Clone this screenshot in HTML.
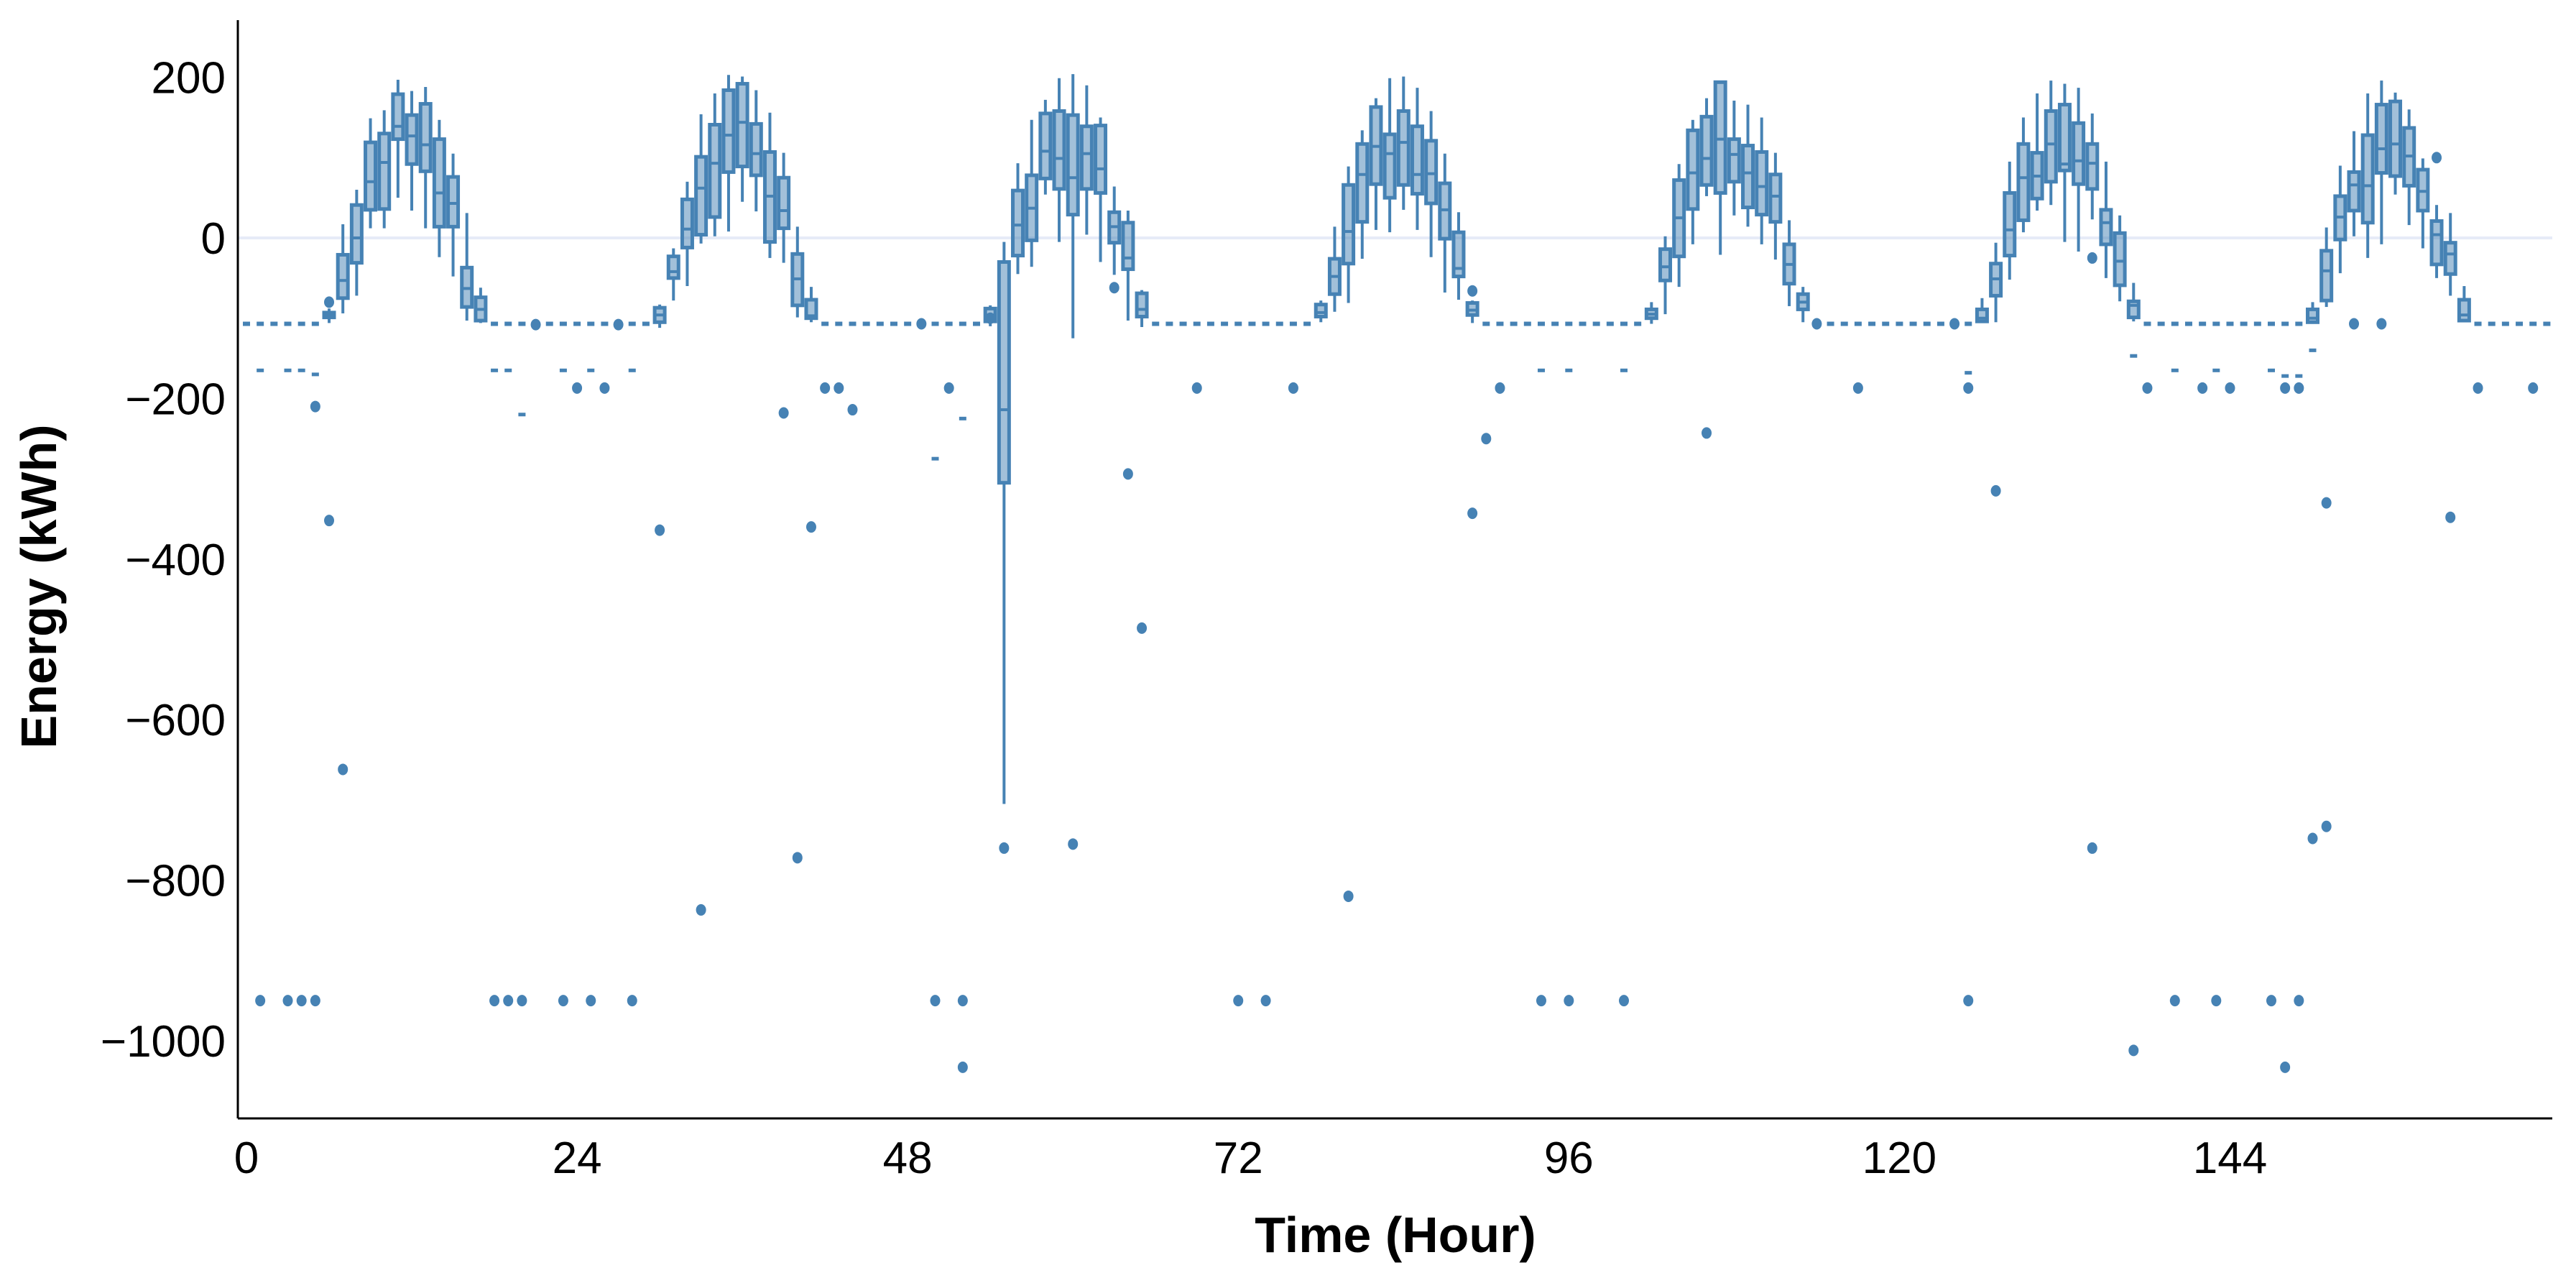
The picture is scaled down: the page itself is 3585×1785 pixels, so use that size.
<!DOCTYPE html>
<html><head><meta charset="utf-8"><style>
html,body{margin:0;padding:0;background:#fff;}
svg{display:block;font-family:"Liberation Sans",sans-serif;}
</style></head><body>
<svg id="chart" width="3585" height="1785" viewBox="0 0 3585 1785" xmlns="http://www.w3.org/2000/svg">
<rect width="3585" height="1785" fill="#fff"/>
<g id="grid"></g>
<g id="marks"></g>
<g id="axes"></g>
<text x="1942" y="1742" text-anchor="middle" font-size="70" font-weight="bold" fill="#000">Time (Hour)</text>
<text transform="translate(78,816) rotate(-90)" text-anchor="middle" font-size="70" font-weight="bold" fill="#000">Energy (kWh)</text>
</svg>
<script>
const dayHours=[6,7,8,9,10,11,12,13,14,15,16,17,30,31,32,33,34,35,36,37,38,39,40,41,54,55,56,57,58,59,60,61,62,63,64,65,78,79,80,81,82,83,84,85,86,87,88,89,102,103,104,105,106,107,108,109,110,111,112,113,126,127,128,129,130,131,132,133,134,135,136,137,150,151,152,153,154,155,156,157,158,159,160,161];
const boxLow=[-106,-94,-72,12,12,50,34,12,-24,-48,-103,-106, -112,-78,-60,-7,2,8,45,33,-25,-31,-99,-105, -110,-705,-45,-36,54,-5,-125,4,-30,-46,-103,-111, -105,-92,-81,-26,10,7,35,10,-24,-68,-77,-106, -107,-95,-61,-8,52,-21,28,14,-8,-27,-85,-105, -106,-105,-52,7,34,41,-5,-17,23,-50,-79,-104, -107,-86,-44,2,-25,-8,54,16,-13,-50,-72,-105];
const boxQ1=[-99,-75,-31,35,36,123,92,83,14,14,-86,-103, -105,-50,-12,4,26,82,89,78,-5,12,-84,-100, -104,-305,-22,-3,74,61,29,61,56,-6,-39,-98, -98,-70,-32,20,67,50,66,55,43,-1,-48,-96, -100,-53,-23,36,66,56,70,38,29,20,-57,-89, -104,-72,-22,22,49,70,84,67,61,-8,-59,-99, -105,-78,-2,34,19,81,77,65,34,-33,-45,-103];
const boxMedian=[-96,-53,0,70,94,139,127,116,56,43,-63,-89, -96,-42,11,62,93,128,144,105,52,34,-51,-97, -96,-214,16,37,108,99,75,105,86,14,-25,-89, -93,-48,8,79,114,105,119,79,80,35,-38,-90, -95,-36,25,81,99,123,104,81,64,52,-33,-80, -100,-51,10,75,77,117,92,96,93,19,-29,-84, -100,-41,26,66,65,111,117,102,58,4,-20,-96];
const boxQ3=[-93,-21,41,119,130,179,153,167,123,76,-37,-74, -87,-23,48,101,141,184,192,142,107,75,-20,-77, -88,-30,59,78,155,158,153,139,140,32,19,-69, -83,-26,66,117,163,129,158,139,121,68,7,-81, -89,-14,72,134,151,194,123,115,107,79,-8,-70, -89,-32,56,117,106,158,166,143,117,35,6,-79, -89,-16,52,82,128,166,170,137,85,21,-6,-77];
const boxHigh=[-88,17,60,149,159,197,183,188,147,105,31,-62, -83,-13,70,154,180,203,201,184,156,106,14,-61, -84,-5,93,147,172,199,204,190,150,64,34,-65, -78,14,89,134,174,199,201,187,158,105,32,-78, -80,2,92,147,174,196,171,166,150,106,22,-61, -75,-6,95,150,180,196,192,187,155,95,28,-56, -80,13,90,133,180,196,181,160,99,41,31,-60];
const nightHours=[0,1,2,3,4,5,18,19,20,21,22,23,24,25,26,27,28,29,42,43,44,45,46,47,48,49,50,51,52,53,66,67,68,69,70,71,72,73,74,75,76,77,90,91,92,93,94,95,96,97,98,99,100,101,114,115,116,117,118,119,120,121,122,123,124,125,138,139,140,141,142,143,144,145,146,147,148,149,162,163,164,165,166,167];
const nightValues=[-107,-107,-107,-107,-107,-107,-107,-107,-107,-107,-107,-107,-107,-107,-107,-107,-107,-107,-107,-107,-107,-107,-107,-107,-107,-107,-107,-107,-107,-107,-107,-107,-107,-107,-107,-107,-107,-107,-107,-107,-107,-107,-107,-107,-107,-107,-107,-107,-107,-107,-107,-107,-107,-107,-107,-107,-107,-107,-107,-107,-107,-107,-107,-107,-107,-107,-107,-107,-107,-107,-107,-107,-107,-107,-107,-107,-107,-107,-107,-107,-107,-107,-107,-107];
const outlierHours=[1,3,4,5,5,6,6,7,18,19,20,21,23,24,25,26,27,28,30,33,39,40,41,42,43,44,49,50,51,52,52,54,55,60,63,64,65,69,72,74,76,80,89,89,90,91,94,96,100,106,114,117,124,125,125,127,134,134,137,138,140,142,143,144,147,148,148,149,149,150,151,151,153,155,159,160,162,166];
const outlierValues=[-950,-950,-950,-950,-210,-80,-352,-662,-950,-950,-950,-108,-950,-187,-950,-187,-108,-950,-364,-837,-218,-772,-360,-187,-187,-214,-107,-950,-187,-950,-1033,-100,-760,-755,-62,-294,-486,-187,-950,-950,-187,-820,-66,-343,-250,-187,-950,-950,-950,-243,-107,-187,-107,-187,-950,-315,-760,-25,-1012,-187,-950,-187,-950,-187,-950,-1033,-187,-187,-950,-748,-733,-330,-107,-107,100,-348,-187,-187];
const dashHours=[1,3,4,5,18,19,20,23,25,28,50,52,94,96,100,125,137,140,143,147,148,149,150];
const dashValues=[-165,-165,-165,-170,-165,-165,-220,-165,-165,-165,-275,-225,-165,-165,-165,-168,-147,-165,-165,-165,-172,-172,-140];
const yTicks=[200,0,-200,-400,-600,-800,-1000];
const yTickLabels=["200","0","\u2212200","\u2212400","\u2212600","\u2212800","\u22121000"];
const xTicks=[0,24,48,72,96,120,144];
const xTickLabels=["0","24","48","72","96","120","144"];

const NS="http://www.w3.org/2000/svg";
const X0=343, XS=19.17, Y0=331, YS=1.117;
const PL=331, PR=3552, PT=28, PB=1556;
const C="#4682b4";
function xs(h){return X0+XS*h;}
function ys(v){return Y0-YS*v;}
function mk(tag,attrs,parent){const e=document.createElementNS(NS,tag);for(const k in attrs)e.setAttribute(k,attrs[k]);parent.appendChild(e);return e;}
const grid=document.getElementById('grid'), marks=document.getElementById('marks'), axes=document.getElementById('axes');

const zl=mk('line',{x1:PL,x2:PR,y1:ys(0),y2:ys(0),stroke:"#e6ebf7","stroke-width":4},grid);



for(let i=0;i<nightHours.length;i++){
  const r=mk('rect',{x:xs(nightHours[i])-5,y:ys(nightValues[i])-3,width:10,height:6,fill:C},marks);
  
  
}
for(let i=0;i<dashHours.length;i++){
  const r=mk('rect',{x:xs(dashHours[i])-5,y:ys(dashValues[i])-2.5,width:10,height:5,fill:C},marks);
  
  
}
for(let i=0;i<dayHours.length;i++){
  const x=xs(dayHours[i]);
  const g=mk('g',{},marks);
  
  
  mk('line',{x1:x,x2:x,y1:ys(boxHigh[i]),y2:ys(boxQ3[i]),stroke:C,"stroke-width":4},g);
  mk('line',{x1:x,x2:x,y1:ys(boxQ1[i]),y2:ys(boxLow[i]),stroke:C,"stroke-width":4},g);
  const top=ys(boxQ3[i]), bot=ys(boxQ1[i]);
  mk('rect',{x:x-7,y:top,width:14,height:Math.max(bot-top,2),fill:"rgba(70,130,180,0.5)",stroke:C,"stroke-width":5},g);
  mk('line',{x1:x-7,x2:x+7,y1:ys(boxMedian[i]),y2:ys(boxMedian[i]),stroke:C,"stroke-width":4},g);
}
for(let i=0;i<outlierHours.length;i++){
  const c=mk('ellipse',{cx:xs(outlierHours[i]),cy:ys(outlierValues[i]),rx:7,ry:8,fill:C},marks);
  
  
}

const ya=mk('line',{x1:PL,x2:PL,y1:PT,y2:PB,stroke:"#000","stroke-width":3},axes);


const xa=mk('line',{x1:PL,x2:PR,y1:PB,y2:PB,stroke:"#000","stroke-width":3},axes);


for(let i=0;i<yTicks.length;i++){
  const t=mk('text',{x:314,y:ys(yTicks[i])+22,"text-anchor":"end","font-size":62,fill:"#000"},axes);
  t.textContent=yTickLabels[i];
  
  
}
for(let i=0;i<xTicks.length;i++){
  const t=mk('text',{x:xs(xTicks[i]),y:1632,"text-anchor":"middle","font-size":62,fill:"#000"},axes);
  t.textContent=xTickLabels[i];
  
  
}
</script>
</body></html>
